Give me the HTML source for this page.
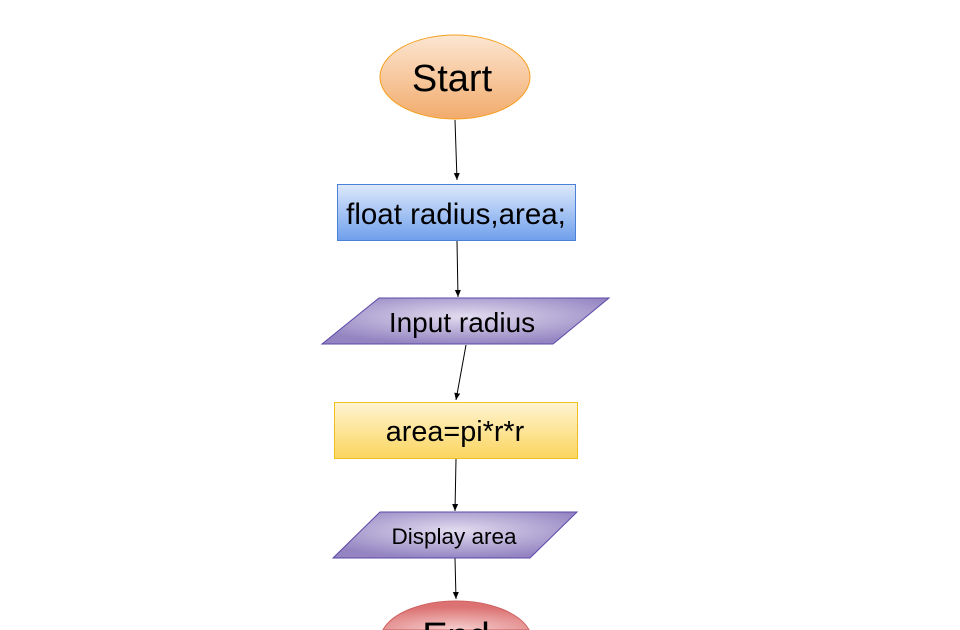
<!DOCTYPE html>
<html><head><meta charset="utf-8"><style>html,body{margin:0;padding:0;background:#fff;overflow:hidden;width:960px;height:630px}svg{display:block}</style></head>
<body>
<svg width="960" height="630" viewBox="0 0 960 630" xmlns="http://www.w3.org/2000/svg" font-family="Liberation Sans, Arial, sans-serif" overflow="hidden">
<defs>
<linearGradient id="og" x1="0" y1="0" x2="0" y2="1"><stop offset="0" stop-color="#fce6d2"/><stop offset="1" stop-color="#f2ab6c"/></linearGradient>
<linearGradient id="bg" x1="0" y1="0" x2="0" y2="1"><stop offset="0" stop-color="#dde9fb"/><stop offset="1" stop-color="#6f9fec"/></linearGradient>
<linearGradient id="yg" x1="0" y1="0" x2="0" y2="1"><stop offset="0" stop-color="#fff4d2"/><stop offset="1" stop-color="#fbd55e"/></linearGradient>
<radialGradient id="pg" cx="0.5" cy="0.4" r="0.6"><stop offset="0" stop-color="#e2dcef"/><stop offset="1" stop-color="#9485c2"/></radialGradient>
<radialGradient id="rg" cx="0.5" cy="1" r="0.8"><stop offset="0" stop-color="#f6d0d0"/><stop offset="1" stop-color="#dc7272"/></radialGradient>
<marker id="ar" markerWidth="8" markerHeight="8" refX="7" refY="4" orient="auto" markerUnits="userSpaceOnUse"><path d="M0,1 L7,4 L0,7 z" fill="#000"/></marker>
</defs>
<g stroke="#000" stroke-width="1" marker-end="url(#ar)">
<line x1="455" y1="120" x2="457" y2="180"/>
<line x1="457" y1="241" x2="458" y2="297"/>
<line x1="466" y1="345" x2="456" y2="400"/>
<line x1="456" y1="459" x2="455" y2="511"/>
<line x1="455" y1="558" x2="456" y2="599"/>
</g>
<ellipse cx="455" cy="77" rx="75" ry="42" fill="url(#og)" stroke="#f5a020" stroke-width="1"/>
<text x="452" y="91" font-size="38" text-anchor="middle">Start</text>
<rect x="337.5" y="184.5" width="238" height="56" fill="url(#bg)" stroke="#4a80d6"/>
<text x="456" y="224" font-size="29.5" text-anchor="middle">float radius,area;</text>
<polygon points="379,298 609,298 553,344 322,344" fill="url(#pg)" stroke="#5c48a8"/>
<text x="462" y="332" font-size="28" text-anchor="middle">Input radius</text>
<rect x="334.5" y="402.5" width="243" height="56" fill="url(#yg)" stroke="#f0c020"/>
<text x="455" y="441" font-size="28.8" text-anchor="middle">area=pi*r*r</text>
<polygon points="380,512 577,512 530,558 333,558" fill="url(#pg)" stroke="#5c48a8"/>
<text x="454" y="544" font-size="22.5" text-anchor="middle">Display area</text>
<path d="M382.9,630 A76,40 0 0 1 529.1,630 Z" fill="url(#rg)" stroke="#d06060"/>
<text x="456" y="649" font-size="38" text-anchor="middle">End</text>
</svg>
</body></html>
